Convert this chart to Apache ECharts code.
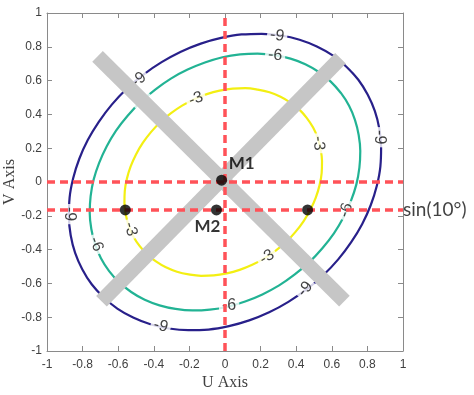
<!DOCTYPE html>
<html><head><meta charset="utf-8">
<script src="https://cdn.jsdelivr.net/npm/echarts@6/dist/echarts.min.js"></script>
<style>html,body{margin:0;padding:0;background:#fff}#c{width:474px;height:395px}</style>
</head><body><div id="c"></div>
<script>
// ---- tick labels ----
const xTickLabels = ['-1','-0.8','-0.6','-0.4','-0.2','0','0.2','0.4','0.6','0.8','1'];
const yTickLabels = ['-1','-0.8','-0.6','-0.4','-0.2','0','0.2','0.4','0.6','0.8','1'];

// ---- contour -9 (closed loop) ----
const navyPts = [
  [0.749,0.605],[0.682,0.682],[0.605,0.749],[0.516,0.802],[0.419,0.842],[0.315,0.867],[0.206,0.877],[0.093,0.873],
  [-0.022,0.853],[-0.136,0.819],[-0.248,0.771],[-0.356,0.709],[-0.458,0.636],[-0.552,0.552],
  [-0.636,0.458],[-0.709,0.356],[-0.771,0.248],[-0.819,0.136],[-0.853,0.022],[-0.873,-0.093],
  [-0.877,-0.206],[-0.867,-0.315],[-0.842,-0.419],[-0.802,-0.516],[-0.749,-0.605],[-0.682,-0.682],
  [-0.605,-0.749],[-0.516,-0.802],[-0.419,-0.842],[-0.315,-0.867],[-0.206,-0.877],[-0.093,-0.873],
  [0.022,-0.853],[0.136,-0.819],[0.248,-0.771],[0.356,-0.709],[0.458,-0.636],[0.552,-0.552],
  [0.636,-0.458],[0.709,-0.356],[0.771,-0.248],[0.819,-0.136],[0.853,-0.022],[0.873,0.093],
  [0.877,0.206],[0.867,0.315],[0.842,0.419],[0.802,0.516],[0.749,0.605],[0.682,0.682],[0.605,0.749]
];
// ---- contour -6 ----
const tealPts = [
  [0.651,0.527],[0.594,0.594],[0.527,0.651],[0.451,0.697],[0.368,0.730],[0.278,0.751],[0.183,0.760],[0.085,0.755],
  [-0.014,0.738],[-0.113,0.707],[-0.210,0.665],[-0.304,0.612],[-0.392,0.547],[-0.474,0.474],
  [-0.547,0.392],[-0.612,0.304],[-0.665,0.210],[-0.707,0.113],[-0.738,0.014],[-0.755,-0.085],
  [-0.760,-0.183],[-0.751,-0.278],[-0.730,-0.368],[-0.697,-0.451],[-0.651,-0.527],[-0.594,-0.594],
  [-0.527,-0.651],[-0.451,-0.697],[-0.368,-0.730],[-0.278,-0.751],[-0.183,-0.760],[-0.085,-0.755],
  [0.014,-0.738],[0.113,-0.707],[0.210,-0.665],[0.304,-0.612],[0.392,-0.547],[0.474,-0.474],
  [0.547,-0.392],[0.612,-0.304],[0.665,-0.210],[0.707,-0.113],[0.738,-0.014],[0.755,0.085],
  [0.760,0.183],[0.751,0.278],[0.730,0.368],[0.697,0.451],[0.651,0.527],[0.594,0.594],[0.527,0.651]
];
// ---- contour -3 ----
const yellowPts = [
  [0.460,0.378],[0.418,0.428],[0.368,0.470],[0.312,0.505],[0.250,0.531],[0.184,0.547],[0.114,0.555],[0.043,0.553],
  [-0.030,0.541],[-0.102,0.520],[-0.173,0.490],[-0.241,0.452],[-0.305,0.406],[-0.364,0.354],
  [-0.416,0.295],[-0.462,0.231],[-0.500,0.163],[-0.530,0.092],[-0.551,0.020],[-0.563,-0.053],
  [-0.565,-0.124],[-0.557,-0.194],[-0.541,-0.260],[-0.515,-0.322],[-0.480,-0.378],[-0.438,-0.428],
  [-0.388,-0.470],[-0.332,-0.505],[-0.270,-0.531],[-0.204,-0.547],[-0.134,-0.555],[-0.063,-0.553],
  [0.010,-0.541],[0.082,-0.520],[0.153,-0.490],[0.221,-0.452],[0.285,-0.406],[0.344,-0.354],
  [0.396,-0.295],[0.442,-0.231],[0.480,-0.163],[0.510,-0.092],[0.531,-0.020],[0.543,0.053],
  [0.545,0.124],[0.537,0.194],[0.521,0.260],[0.495,0.322],[0.460,0.378],[0.418,0.428],[0.368,0.470]
];

// ---- contour labels ----
const navyLabelPts = [[-0.872,-0.190],[-0.485,0.605],[0.293,0.866],[0.868,0.265],[0.451,-0.633],[-0.361,-0.852]];
const navyLabelAngles = [-90,40,-8,-90,50,-15];
const tealLabelPts = [[-0.462,0.478],[0.282,0.750],[0.680,-0.167],[0.023,-0.730],[-0.724,-0.368]];
const tealLabelAngles = [45,-5,72,0,-70];
const yellowLabelPts = [[-0.164,0.492],[0.526,0.229],[0.235,-0.444],[-0.531,-0.279]];
const yellowLabelAngles = [20,-85,32,-75];
const levels = ['-9','-6','-3'];

// ---- gray bars ----
const bar1 = [[-0.716,0.743],[0.671,-0.705]];
const bar2 = [[-0.694,-0.705],[0.649,0.732]];

// ---- reference lines ----
const sin10 = -0.165;
const vLine = [[0,-1],[0,1]];
const hLine0 = [[-1,0],[1,0]];
const hLineSin = [[-1,sin10],[1,sin10]];

// ---- points ----
const M1 = [-0.019, 0.011];
const M2 = [-0.048, sin10];
const leftPt = [-0.560, sin10];
const rightPt = [0.464, sin10];

const colors = { navy:'#28208a', teal:'#22b394', yellow:'#f3ef12', red:'#ff5258', bar:'#c6c6c6' };

const series = [];
function addLoop(pts, color){
  series.push({
    type:'line', data:pts, showSymbol:false, smooth:0.4, silent:true, z:2,
    lineStyle:{color:color, width:2.2}
  });
}
addLoop(navyPts, colors.navy);
addLoop(tealPts, colors.teal);
addLoop(yellowPts, colors.yellow);

function addLabels(pts, angles, text){
  series.push({
    type:'scatter', silent:true, z:3, symbolSize:0.1,
    itemStyle:{color:'rgba(0,0,0,0)'},
    data: pts.map((p,i)=>({value:p, label:{rotate:angles[i]}})),
    label:{show:true, position:'inside', formatter:text, color:'#111',
      fontSize:16, fontFamily:'Liberation Sans', backgroundColor:'#fff', padding:[0,3]}
  });
}
addLabels(navyLabelPts, navyLabelAngles, levels[0]);
addLabels(tealLabelPts, tealLabelAngles, levels[1]);
addLabels(yellowLabelPts, yellowLabelAngles, levels[2]);

[bar1, bar2].forEach(b => series.push({
  type:'line', data:b, showSymbol:false, silent:true, z:4,
  lineStyle:{color:colors.bar, width:15, cap:'butt'}
}));

[vLine, hLine0, hLineSin].forEach(l => series.push({
  type:'line', data:l, showSymbol:false, silent:true, z:5, clip:false,
  lineStyle:{color:colors.red, width:3.5, type:[8,5]}
}));

series.push({
  type:'scatter', silent:true, z:6, symbolSize:11, itemStyle:{color:'#000'},
  data:[
    {value:M1, label:{show:true, formatter:'M1', position:'inside', offset:[20,-17]}},
    {value:M2, label:{show:true, formatter:'M2', position:'inside', offset:[-9,17]}},
    {value:leftPt}, {value:rightPt}
  ],
  label:{color:'#000', fontSize:17, fontWeight:'bold', fontFamily:'Lato'}
});

series.push({
  type:'scatter', silent:true, z:6, symbolSize:0.1, itemStyle:{color:'rgba(0,0,0,0)'},
  data:[{value:[1, sin10]}],
  label:{show:true, position:'right', distance:0, formatter:'sin(10°)', color:'#111', fontSize:19, fontFamily:'Lato'}
});

function tickFmt(arr){ return v => arr[Math.round((v+1)/0.2)]; }
const axisCommon = {
  type:'value', min:-1, max:1, interval:0.2,
  splitLine:{show:false},
  axisLine:{show:true, onZero:false, lineStyle:{color:'#8a8a8a', width:1}},
  axisTick:{show:true, inside:true, length:5, lineStyle:{color:'#8a8a8a'}},
};
const option = {
  animation:false,
  backgroundColor:'#fff',
  grid:{left:47, right:71, top:13, bottom:44, containLabel:false, outerBoundsMode:'none'},
  xAxis:[
    Object.assign({}, axisCommon, {position:'bottom',
      axisLabel:{color:'#404040', fontSize:12, fontFamily:'Liberation Sans', margin:8, formatter:tickFmt(xTickLabels)},
      name:'U Axis', nameLocation:'middle', nameGap:24, nameMoveOverlap:false,
      nameTextStyle:{color:'#404040', fontSize:16, fontFamily:'Liberation Serif'}}),
    Object.assign({}, axisCommon, {position:'top', axisLabel:{show:false}})
  ],
  yAxis:[
    Object.assign({}, axisCommon, {position:'left',
      axisLabel:{color:'#404040', fontSize:12, fontFamily:'Liberation Sans', margin:5, formatter:tickFmt(yTickLabels)},
      name:'V Axis', nameLocation:'middle', nameGap:29, nameMoveOverlap:false,
      nameTextStyle:{color:'#404040', fontSize:16, fontFamily:'Liberation Serif'}}),
    Object.assign({}, axisCommon, {position:'right', axisLabel:{show:false}})
  ],
  series: series
};
const chart = echarts.init(document.getElementById('c'), null, {renderer:'canvas'});
chart.setOption(option);
</script>
</body></html>
